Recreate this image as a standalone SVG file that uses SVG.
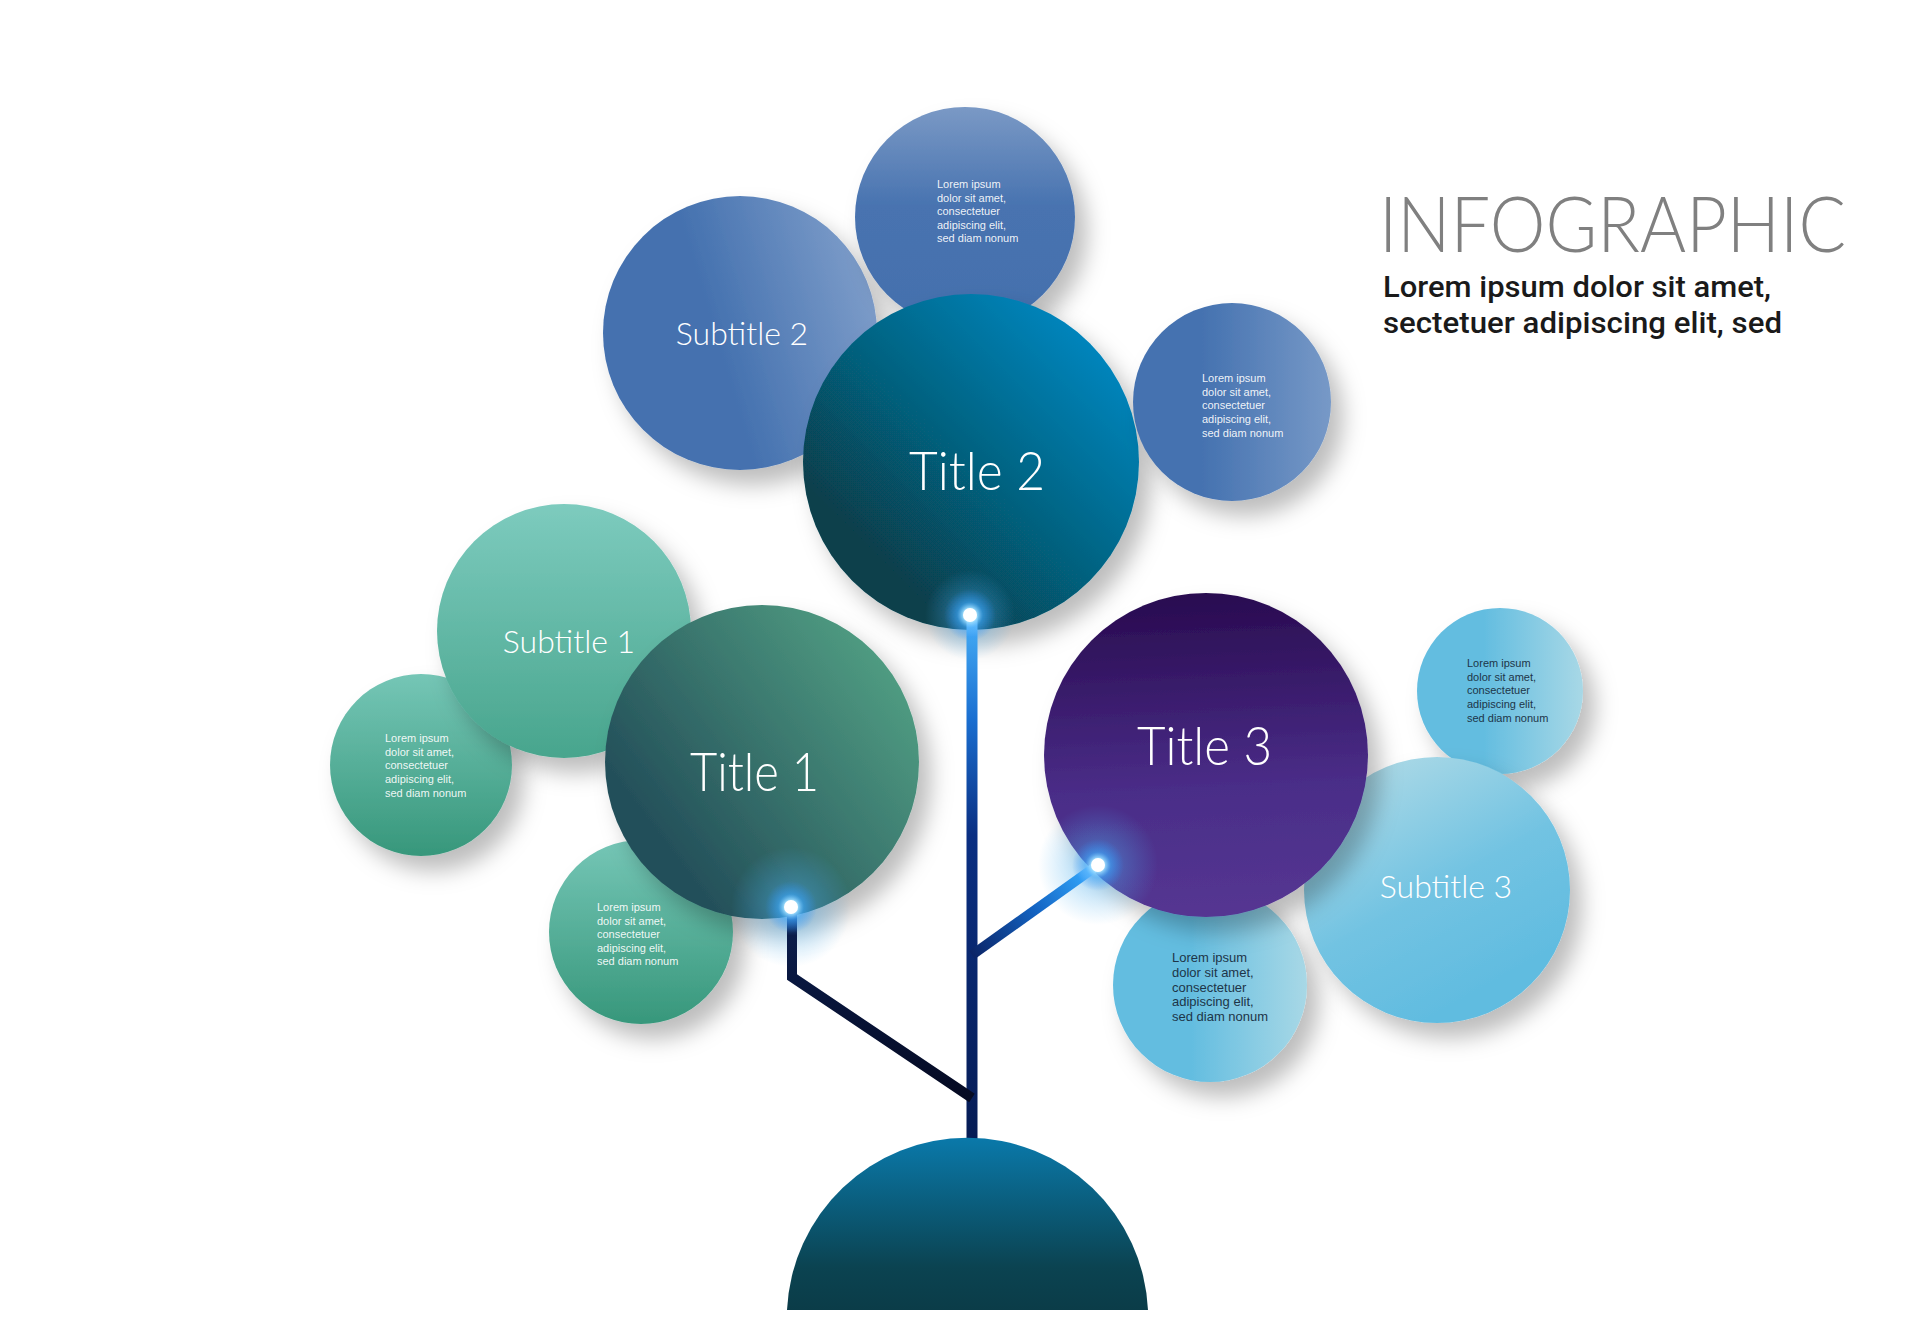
<svg xmlns="http://www.w3.org/2000/svg" width="1920" height="1317" viewBox="0 0 1920 1317">
<defs>
<style>
.light{font-family:"Lato","Liberation Sans",sans-serif;font-weight:300;fill:#ffffff}
.title{font-size:54px}
.sub{font-size:32px}
.lorem{font-family:"Liberation Sans",Arial,sans-serif;font-size:11px;fill:#ffffff;fill-opacity:0.92}
.lorem-dark{font-family:"Liberation Sans",Arial,sans-serif;font-size:11px;fill:#1d3548}
.head{font-family:"Lato","Liberation Sans",sans-serif;font-weight:300;font-size:77px;fill:#808080}
.lead{font-family:"Roboto","Liberation Sans",sans-serif;font-weight:500;font-size:30px;fill:#1a1a1a}
</style>
<filter id="sh" x="-30%" y="-30%" width="170%" height="170%">
<feDropShadow dx="12" dy="15" stdDeviation="11" flood-color="#000" flood-opacity="0.26"/>
</filter>
<linearGradient id="gBlue" x1="0" y1="0.6" x2="1" y2="0.3">
<stop offset="0.4" stop-color="#4471af"/><stop offset="1" stop-color="#7f9eca"/>
</linearGradient>
<linearGradient id="gBlueH" x1="0" y1="0.5" x2="1" y2="0.5">
<stop offset="0.35" stop-color="#4572b0"/><stop offset="1" stop-color="#7799c7"/>
</linearGradient>
<linearGradient id="gBlueTop" x1="0.5" y1="0" x2="0.5" y2="1">
<stop offset="0" stop-color="#7a99c5"/><stop offset="0.45" stop-color="#4873b0"/><stop offset="1" stop-color="#4470ad"/>
</linearGradient>
<linearGradient id="gT2" x1="0.15" y1="0.85" x2="0.85" y2="0.15">
<stop offset="0.1" stop-color="#073f4c"/><stop offset="0.5" stop-color="#06617e"/><stop offset="1" stop-color="#0584bb"/>
</linearGradient>
<linearGradient id="gS1" x1="0.5" y1="0" x2="0.5" y2="1">
<stop offset="0" stop-color="#7dcbbe"/><stop offset="1" stop-color="#48a58d"/>
</linearGradient>
<linearGradient id="gG" x1="0.5" y1="0" x2="0.5" y2="1">
<stop offset="0" stop-color="#75c6b6"/><stop offset="1" stop-color="#37977b"/>
</linearGradient>
<linearGradient id="gT1" x1="0.1" y1="0.8" x2="0.9" y2="0.2">
<stop offset="0.1" stop-color="#24505a"/><stop offset="1" stop-color="#4f9b81"/>
</linearGradient>
<linearGradient id="gT3" x1="0.5" y1="0" x2="0.55" y2="1">
<stop offset="0" stop-color="#290b50"/><stop offset="0.6" stop-color="#4a2d88"/><stop offset="1" stop-color="#553692"/>
</linearGradient>
<linearGradient id="gLB" x1="0" y1="0.5" x2="1" y2="0.5">
<stop offset="0.4" stop-color="#63bde0"/><stop offset="1" stop-color="#a8d8e6"/>
</linearGradient>
<linearGradient id="gS3" x1="0.25" y1="0.05" x2="0.7" y2="0.85">
<stop offset="0" stop-color="#a9d8e6"/><stop offset="0.55" stop-color="#72c3e2"/><stop offset="1" stop-color="#61bce0"/>
</linearGradient>
<linearGradient id="gDome" x1="0" y1="0" x2="0" y2="1">
<stop offset="0" stop-color="#0a79aa"/><stop offset="0.75" stop-color="#0b4351"/><stop offset="1" stop-color="#0b3c48"/>
</linearGradient>
<linearGradient id="gTrunk" gradientUnits="userSpaceOnUse" x1="0" y1="616" x2="0" y2="1137">
<stop offset="0" stop-color="#a6e2ff"/><stop offset="0.04" stop-color="#3ea3f0"/><stop offset="0.2" stop-color="#1a6ed0"/><stop offset="0.42" stop-color="#0a2f82"/><stop offset="1" stop-color="#061c55"/>
</linearGradient>
<linearGradient id="gRight" gradientUnits="userSpaceOnUse" x1="972" y1="955" x2="1098" y2="865">
<stop offset="0" stop-color="#0b2466"/><stop offset="0.5" stop-color="#1363c2"/><stop offset="0.85" stop-color="#2e9cf2"/><stop offset="1" stop-color="#c2ecff"/>
</linearGradient>
<linearGradient id="gLeft" gradientUnits="userSpaceOnUse" x1="0" y1="907" x2="0" y2="1097">
<stop offset="0" stop-color="#3a93e6"/><stop offset="0.15" stop-color="#0a1c4a"/><stop offset="1" stop-color="#050a22"/>
</linearGradient>
<radialGradient id="glow">
<stop offset="0" stop-color="#ffffff" stop-opacity="1"/><stop offset="0.25" stop-color="#a8e4ff" stop-opacity="0.95"/><stop offset="0.5" stop-color="#3aa6ff" stop-opacity="0.5"/><stop offset="1" stop-color="#2a8cff" stop-opacity="0"/>
</radialGradient>
<radialGradient id="tint">
<stop offset="0" stop-color="#4bb0f0" stop-opacity="0.55"/><stop offset="1" stop-color="#4bb0f0" stop-opacity="0"/>
</radialGradient>
</defs>
<rect width="1920" height="1317" fill="#ffffff"/>

<g id="subtitle-2">
<circle cx="740" cy="333" r="137" fill="url(#gBlue)" filter="url(#sh)"/>
<text class="light sub" x="742" y="345" text-anchor="middle">Subtitle 2</text>
</g>
<g id="note-2a">
<circle cx="965" cy="217" r="110" fill="url(#gBlueTop)" filter="url(#sh)"/>
<text class="lorem" x="937" y="188"><tspan x="937" dy="0">Lorem ipsum</tspan><tspan x="937" dy="13.6">dolor sit amet,</tspan><tspan x="937" dy="13.6">consectetuer</tspan><tspan x="937" dy="13.6">adipiscing elit,</tspan><tspan x="937" dy="13.6">sed diam nonum</tspan></text>
</g>
<g id="title-2">
<circle cx="971" cy="462" r="168" fill="url(#gT2)" filter="url(#sh)"/>
<text class="light title" x="909" y="490" textLength="136" lengthAdjust="spacingAndGlyphs">Title 2</text>
</g>
<g id="note-2b">
<circle cx="1232" cy="402" r="99" fill="url(#gBlueH)" filter="url(#sh)"/>
<text class="lorem" x="1202" y="382"><tspan x="1202" dy="0">Lorem ipsum</tspan><tspan x="1202" dy="13.7">dolor sit amet,</tspan><tspan x="1202" dy="13.7">consectetuer</tspan><tspan x="1202" dy="13.7">adipiscing elit,</tspan><tspan x="1202" dy="13.7">sed diam nonum</tspan></text>
</g>

<g id="note-1a">
<circle cx="421" cy="765" r="91" fill="url(#gG)" filter="url(#sh)"/>
<text class="lorem" x="385" y="742"><tspan x="385" dy="0">Lorem ipsum</tspan><tspan x="385" dy="13.7">dolor sit amet,</tspan><tspan x="385" dy="13.7">consectetuer</tspan><tspan x="385" dy="13.7">adipiscing elit,</tspan><tspan x="385" dy="13.7">sed diam nonum</tspan></text>
</g>
<g id="subtitle-1">
<circle cx="564" cy="631" r="127" fill="url(#gS1)" filter="url(#sh)"/>
<text class="light sub" x="569" y="653" text-anchor="middle">Subtitle 1</text>
</g>
<g id="note-1b">
<circle cx="641" cy="932" r="92" fill="url(#gG)" filter="url(#sh)"/>
<text class="lorem" x="597" y="911"><tspan x="597" dy="0">Lorem ipsum</tspan><tspan x="597" dy="13.6">dolor sit amet,</tspan><tspan x="597" dy="13.6">consectetuer</tspan><tspan x="597" dy="13.6">adipiscing elit,</tspan><tspan x="597" dy="13.6">sed diam nonum</tspan></text>
</g>
<g id="title-1">
<circle cx="762" cy="762" r="157" fill="url(#gT1)" filter="url(#sh)"/>
<text class="light title" x="690" y="791" textLength="129" lengthAdjust="spacingAndGlyphs">Title 1</text>
</g>

<g id="note-3a">
<circle cx="1500" cy="691" r="83" fill="url(#gLB)" filter="url(#sh)"/>
<text class="lorem-dark" x="1467" y="667"><tspan x="1467" dy="0">Lorem ipsum</tspan><tspan x="1467" dy="13.7">dolor sit amet,</tspan><tspan x="1467" dy="13.7">consectetuer</tspan><tspan x="1467" dy="13.7">adipiscing elit,</tspan><tspan x="1467" dy="13.7">sed diam nonum</tspan></text>
</g>
<g id="note-3b">
<circle cx="1210" cy="985" r="97" fill="url(#gLB)" filter="url(#sh)"/>
<text class="lorem-dark" style="font-size:13px" x="1172" y="962"><tspan x="1172" dy="0">Lorem ipsum</tspan><tspan x="1172" dy="14.8">dolor sit amet,</tspan><tspan x="1172" dy="14.8">consectetuer</tspan><tspan x="1172" dy="14.8">adipiscing elit,</tspan><tspan x="1172" dy="14.8">sed diam nonum</tspan></text>
</g>
<g id="subtitle-3">
<circle cx="1437" cy="890" r="133" fill="url(#gS3)" filter="url(#sh)"/>
<text class="light sub" x="1446" y="898" text-anchor="middle">Subtitle 3</text>
</g>
<g id="title-3">
<circle cx="1206" cy="755" r="162" fill="url(#gT3)" filter="url(#sh)"/>
<text class="light title" x="1137" y="765" textLength="135" lengthAdjust="spacingAndGlyphs">Title 3</text>
</g>

<g id="connectors" fill="none" stroke-linejoin="miter">
<circle cx="791" cy="907" r="60" fill="url(#tint)"/>
<circle cx="1098" cy="865" r="60" fill="url(#tint)"/>
<circle cx="970" cy="615" r="45" fill="url(#tint)"/>
<path d="M972,616 V1140" stroke="url(#gTrunk)" stroke-width="11"/>
<path d="M792,907 V977 L972,1098" stroke="url(#gLeft)" stroke-width="10"/>
<path d="M972,955 L1098,865" stroke="url(#gRight)" stroke-width="10"/>
<circle cx="970" cy="615" r="26" fill="url(#glow)"/>
<circle cx="791" cy="907" r="26" fill="url(#glow)"/>
<circle cx="1098" cy="865" r="26" fill="url(#glow)"/>
<circle cx="970" cy="615" r="7" fill="#ffffff"/>
<circle cx="791" cy="907" r="7" fill="#ffffff"/>
<circle cx="1098" cy="865" r="7" fill="#ffffff"/>
</g>

<g id="base">
<path d="M787,1310 A180.7,180.7 0 0 1 1148,1310 Z" fill="url(#gDome)"/>
</g>

<g id="heading">
<text class="head" x="1379" y="252" textLength="467" lengthAdjust="spacingAndGlyphs">INFOGRAPHIC</text>
<text class="lead" x="1383" y="297" textLength="388" lengthAdjust="spacingAndGlyphs">Lorem ipsum dolor sit amet,</text>
<text class="lead" x="1383" y="333" textLength="399" lengthAdjust="spacingAndGlyphs">sectetuer adipiscing elit, sed</text>
</g>
</svg>
